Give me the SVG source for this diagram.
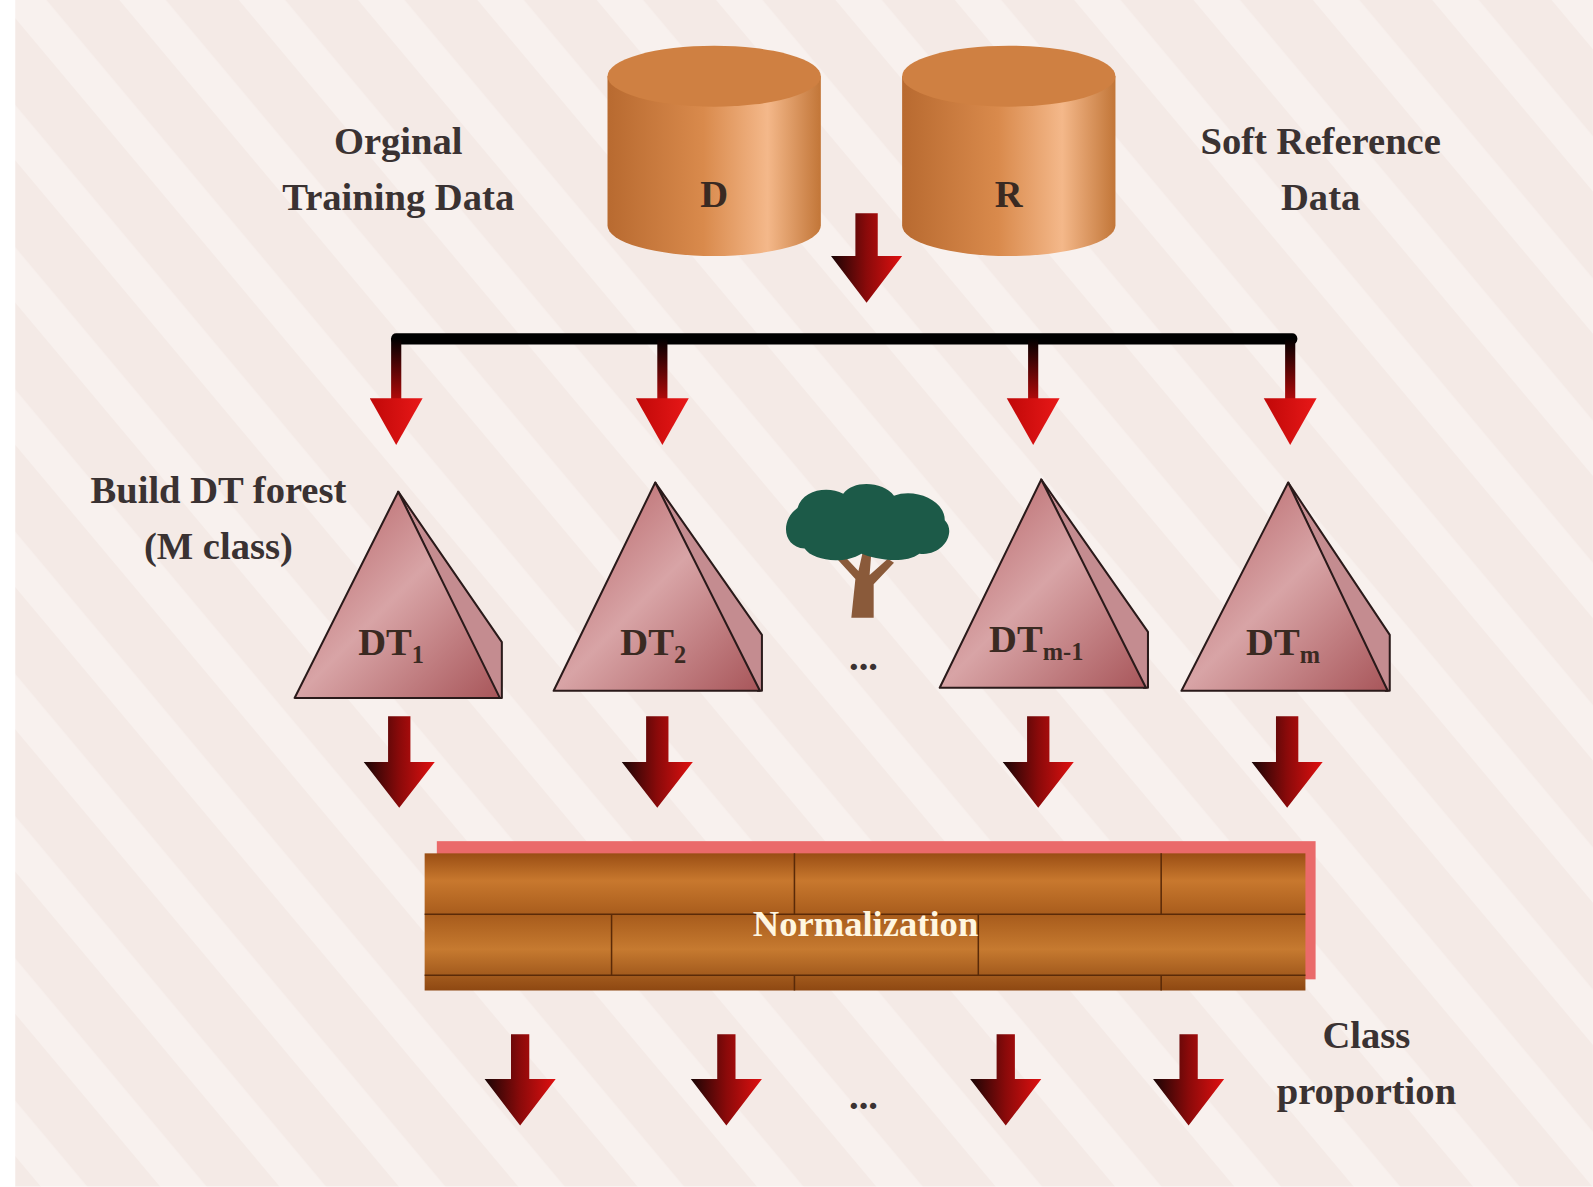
<svg xmlns="http://www.w3.org/2000/svg" width="1593" height="1187" viewBox="0 0 1593 1187">
<defs>
<style>
.t{font-family:"Liberation Serif",serif;font-weight:bold;fill:#3a3232;font-size:38px;text-anchor:middle}
.lbl{font-family:"Liberation Serif",serif;font-weight:bold;fill:#3a2a22;font-size:38px;text-anchor:middle}
.pf{fill:url(#pyr);stroke:#2a1a1a;stroke-width:2;stroke-linejoin:round}
.ps{fill:#c48c90;stroke:#2a1a1a;stroke-width:2;stroke-linejoin:round}
.fat{fill:url(#ag)}
.head{fill:url(#hg)}
.stem{fill:url(#sg)}
</style>
<linearGradient id="cyl" x1="0" x2="1" y1="0" y2="0">
<stop offset="0" stop-color="#b86a30"/><stop offset="0.45" stop-color="#d98a4c"/><stop offset="0.75" stop-color="#f4b88a"/><stop offset="1" stop-color="#c27638"/>
</linearGradient>
<linearGradient id="pyr" x1="0" x2="1" y1="0" y2="1">
<stop offset="0" stop-color="#b0585c"/><stop offset="0.5" stop-color="#d8a4a6"/><stop offset="1" stop-color="#a8565a"/>
</linearGradient>
<linearGradient id="ag" x1="0" x2="1" y1="0" y2="0">
<stop offset="0" stop-color="#1a0505"/><stop offset="0.5" stop-color="#8a0a0a"/><stop offset="1" stop-color="#e01010"/>
</linearGradient>
<linearGradient id="hg" x1="0" x2="1" y1="0" y2="0">
<stop offset="0" stop-color="#c00808"/><stop offset="1" stop-color="#e81818"/>
</linearGradient>
<linearGradient id="sg" x1="0" x2="0" y1="0" y2="1">
<stop offset="0" stop-color="#000"/><stop offset="1" stop-color="#b00a0a"/>
</linearGradient>
<linearGradient id="wood" x1="0" x2="0" y1="0" y2="1">
<stop offset="0" stop-color="#9a4e14"/><stop offset="0.2" stop-color="#c8782e"/><stop offset="0.45" stop-color="#a85c1c"/><stop offset="0.7" stop-color="#c67a30"/><stop offset="1" stop-color="#8e4812"/>
</linearGradient>
<pattern id="stripes" width="90" height="90" patternUnits="userSpaceOnUse" patternTransform="rotate(-40)">
<rect width="90" height="90" fill="#f4eae6"/><rect width="35" height="90" fill="#f8f1ee"/>
</pattern>
</defs>
<rect width="1593" height="1187" fill="#ffffff"/>
<g transform="scale(1.0159)">
<rect x="15" y="0" width="1553" height="1168" fill="url(#stripes)"/>

<g id="labels">
<text class="t" x="392" y="152">Orginal</text>
<text class="t" x="392" y="207">Training Data</text>
<text class="t" x="1300" y="152">Soft Reference</text>
<text class="t" x="1300" y="207">Data</text>
<text class="t" x="215" y="495">Build DT forest</text>
<text class="t" x="215" y="550">(M class)</text>
<text class="t" x="1345" y="1032">Class</text>
<text class="t" x="1345" y="1087">proportion</text>
</g>

<g id="cylD">
<path d="M598,75 V222 A105,30 0 0 0 808,222 V75 Z" fill="url(#cyl)"/>
<ellipse cx="703" cy="75" rx="105" ry="30" fill="#cf8042"/>
<text class="lbl" x="703" y="204">D</text>
</g>
<g id="cylR">
<path d="M888,75 V222 A105,30 0 0 0 1098,222 V75 Z" fill="url(#cyl)"/>
<ellipse cx="993" cy="75" rx="105" ry="30" fill="#cf8042"/>
<text class="lbl" x="993" y="204">R</text>
</g>

<g id="connectors">
<path class="fat" d="M842,210 H864 V252 H888 L853,298 L818,252 H842 Z"/>
<rect x="385" y="328" width="892" height="11" rx="5" fill="#000"/>
<rect class="stem" x="385" y="333" width="10" height="60"/>
<rect class="stem" x="647" y="333" width="10" height="60"/>
<rect class="stem" x="1012" y="333" width="10" height="60"/>
<rect class="stem" x="1265" y="333" width="10" height="60"/>
<path class="head" d="M364,392 H416 L390,438 Z"/>
<path class="head" d="M626,392 H678 L652,438 Z"/>
<path class="head" d="M991,392 H1043 L1017,438 Z"/>
<path class="head" d="M1244,392 H1296 L1270,438 Z"/>
<path class="fat" d="M382,705 H404 V750 H428 L393,795 L358,750 H382 Z"/>
<path class="fat" d="M636,705 H658 V750 H682 L647,795 L612,750 H636 Z"/>
<path class="fat" d="M1011,705 H1033 V750 H1057 L1022,795 L987,750 H1011 Z"/>
<path class="fat" d="M1256,705 H1278 V750 H1302 L1267,795 L1232,750 H1256 Z"/>
<path class="fat" d="M503,1018 H521 V1062 H547 L512,1108 L477,1062 H503 Z"/>
<path class="fat" d="M706,1018 H724 V1062 H750 L715,1108 L680,1062 H706 Z"/>
<path class="fat" d="M981,1018 H999 V1062 H1025 L990,1108 L955,1062 H981 Z"/>
<path class="fat" d="M1161,1018 H1179 V1062 H1205 L1170,1108 L1135,1062 H1161 Z"/>
</g>

<g id="dt1">
<path class="ps" d="M392,484 L494,632 V687 H490 Z"/>
<path class="pf" d="M392,484 L290,687 H492 Z"/>
<text class="lbl" x="385" y="645" font-size="36">DT<tspan font-size="24" dy="8">1</tspan></text>
</g>
<g id="dt2">
<path class="ps" d="M645,475 L750,625 V680 H746 Z"/>
<path class="pf" d="M645,475 L545,680 H748 Z"/>
<text class="lbl" x="643" y="645" font-size="36">DT<tspan font-size="24" dy="8">2</tspan></text>
</g>
<g id="dtm1">
<path class="ps" d="M1025,472 L1130,622 V677 H1126 Z"/>
<path class="pf" d="M1025,472 L925,677 H1128 Z"/>
<text class="lbl" x="1020" y="642" font-size="36">DT<tspan font-size="24" dy="8">m-1</tspan></text>
</g>
<g id="dtm">
<path class="ps" d="M1268,475 L1368,625 V680 H1364 Z"/>
<path class="pf" d="M1268,475 L1163,680 H1366 Z"/>
<text class="lbl" x="1263" y="645" font-size="36">DT<tspan font-size="24" dy="8">m</tspan></text>
</g>

<g id="tree">
<path d="M838,608 L842,570 L822,548 L830,546 L845,562 L850,540 L858,540 L856,566 L874,550 L880,554 L860,575 L860,608 Z" fill="#8a5a3a"/>
<path d="M785,500 C790,482 815,478 830,486 C840,472 870,474 880,488 C900,480 930,492 930,512 C942,524 928,548 905,545 C890,556 860,550 848,545 C830,556 800,552 792,540 C770,538 768,512 785,500 Z" fill="#1c5a48"/>
</g>
<g id="dots1"><text class="t" x="850" y="660" font-size="44">...</text></g>
<g id="dots2"><text class="t" x="850" y="1092" font-size="44">...</text></g>

<g id="norm">
<rect x="430" y="828" width="865" height="136" fill="#ea6a6a"/>
<rect x="418" y="840" width="867" height="135" fill="url(#wood)"/>
<g stroke="#5a2a08" stroke-width="1.5" fill="none">
<path d="M418,900 H1285 M418,960 H1285 M782,840 V900 M1143,840 V900 M602,900 V960 M963,900 V960 M782,960 V975 M1143,960 V975"/>
</g>
<text x="852" y="921" font-family="Liberation Serif,serif" font-weight="bold" font-size="36" fill="#fff6e0" text-anchor="middle">Normalization</text>
</g>
</g>
</svg>
